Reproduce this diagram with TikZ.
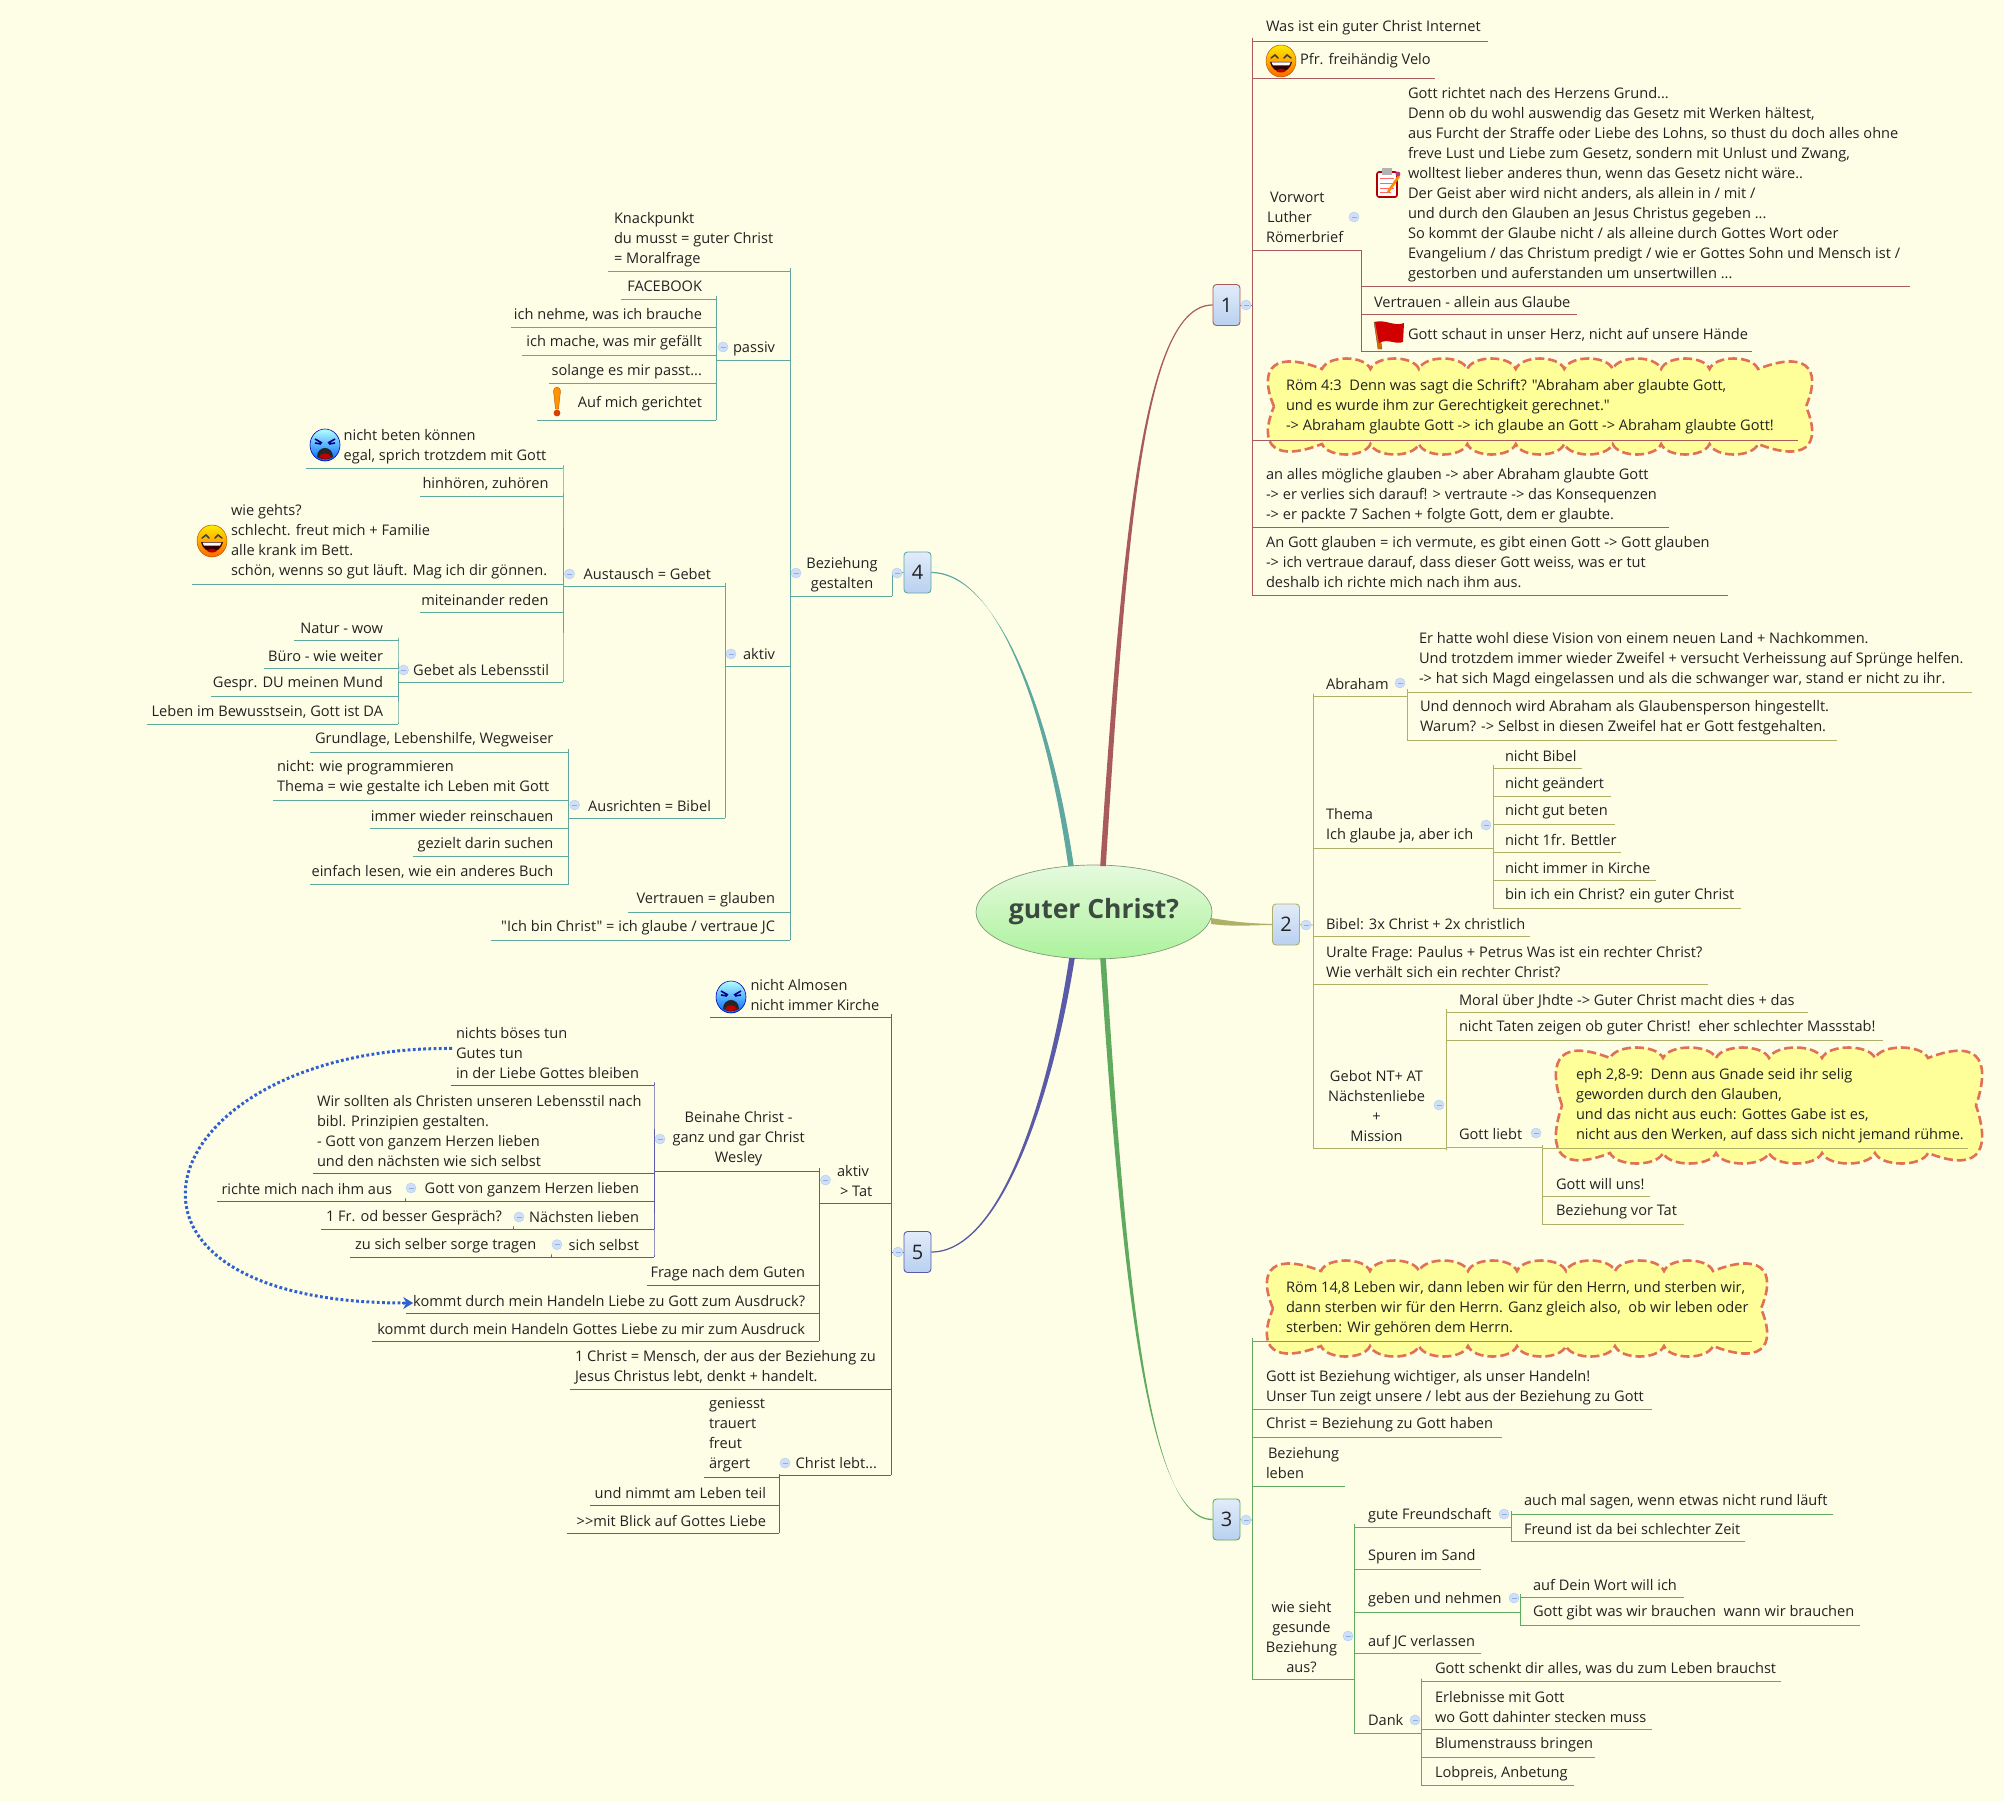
\documentclass[tikz,border=0pt]{standalone}
\usepackage{fontspec}
\setmainfont[Ligatures=TeXOff]{Open Sans}
\usetikzlibrary{shapes.geometric,calc,arrows.meta}
\definecolor{bg}{HTML}{FEFEE6}
\definecolor{cA}{HTML}{A85A5C}
\definecolor{cB}{HTML}{AEB068}
\definecolor{cC}{HTML}{5FAA5F}
\definecolor{cD}{HTML}{5FA8A0}
\definecolor{cE}{HTML}{5A5AA8}
\definecolor{tk}{HTML}{222222}
\definecolor{boxtop}{HTML}{E2ECFA}
\definecolor{boxbot}{HTML}{B8D0F0}
\definecolor{colf}{HTML}{CFDFF8}
\definecolor{cold}{HTML}{B8CEF0}
\definecolor{colm}{HTML}{8FAEE0}
\definecolor{cloudf}{HTML}{FFFF99}
\definecolor{cloudd}{HTML}{E07058}
\definecolor{relc}{HTML}{3060D0}
\definecolor{rtop}{HTML}{E6FADE}
\definecolor{rbot}{HTML}{ACF29C}
\definecolor{rdraw}{HTML}{7F9A78}
\definecolor{rtxt}{HTML}{3C4A40}
\tikzset{
 txt/.style={inner sep=0pt,outer sep=0pt,text=tk,font=\fontsize{14.6}{20}\selectfont},
 br/.style={line width=.9pt,draw=cur},
 lk/.style={line width=.9pt,draw=cur,rounded corners=3pt},
 boxn/.style={rectangle,rounded corners=3.5pt,draw=cur,line width=.9pt,top color=boxtop,bottom color=boxbot,minimum width=27pt,minimum height=41pt,inner sep=0pt,text=tk,font=\fontsize{20}{24}\selectfont},
 coll/.style={circle,fill=colf,draw=cold,line width=.5pt,minimum size=10pt,inner sep=0pt,
   path picture={\draw[colm,line width=.9pt] ([xshift=-2.5pt]path picture bounding box.center) -- ([xshift=2.5pt]path picture bounding box.center);}},
 cloudst/.style={fill=cloudf,draw=cloudd,line width=2.6pt,dash pattern=on 9pt off 4pt},
 rel/.style={draw=relc,line width=3pt,dash pattern=on 2.8pt off 2.4pt},
}
% #1 options, #2 name, #3 parent, #4 xL, #5 xR, #6 yline, #7 x text, #8 y of last line, #9 text
\newcommand\rt[9][]{%
 \coordinate (#2-l) at (#4,#6);\coordinate (#2-r) at (#5,#6);
 \node[txt,align=left,anchor=south west,#1] (#2) at (#7,{#8+11}) {#9\strut};
 \draw[br] (#2-l) -- (#2-r);
 \draw[lk] (#3-r) |- (#2-l);}
\newcommand\lt[9][]{%
 \coordinate (#2-l) at (#4,#6);\coordinate (#2-r) at (#5,#6);
 \node[txt,align=right,anchor=south east,#1] (#2) at (#7,{#8+11}) {#9\strut};
 \draw[br] (#2-l) -- (#2-r);
 \draw[lk] (#3-l) |- (#2-r);}
\newcommand\cl[3]{\node[coll] (#1) at (#2,#3) {};}
\newcommand\taperV[5]{\fill[#1] ($(#2)+(-2.8,0)$) .. controls ($#3+(-2.2,0)$) and ($#4+(0,-1)$) .. ($(#5)+(0,-.6)$) -- ($(#5)+(0,.6)$) .. controls ($#4+(0,1)$) and ($#3+(2.2,0)$) .. ($(#2)+(2.8,0)$) -- cycle;}
\newcommand\cloudshape[5]{%
 \pgfmathsetmacro\xa{#1+8}\pgfmathsetmacro\ya{#2+11}\pgfmathsetmacro\xb{#3-8}\pgfmathsetmacro\yb{#4-11}%
 \pgfmathsetmacro\ym{(#2+#4)/2}\pgfmathsetmacro\va{#1+56}\pgfmathsetmacro\vb{#3-56}\pgfmathsetmacro\ww{(\vb-\va)/#5}%
 \draw[cloudst] (\xa,\ym) .. controls ({#1-9},{#2+8}) and ({#1+10},{#2-7}) .. (\va,\ya)
  foreach \i in {1,...,#5}{ .. controls ({\va+(\i-1)*\ww+.12*\ww},{#2-3}) and ({\va+\i*\ww-.12*\ww},{#2-3}) .. ({\va+\i*\ww},\ya) }
  .. controls ({#3-10},{#2-7}) and ({#3+9},{#2+8}) .. (\xb,\ym)
  .. controls ({#3+9},{#4-8}) and ({#3-10},{#4+7}) .. (\vb,\yb)
  foreach \i in {1,...,#5}{ .. controls ({\vb-(\i-1)*\ww-.12*\ww},{#4+3}) and ({\vb-\i*\ww+.12*\ww},{#4+3}) .. ({\vb-\i*\ww},\yb) }
  .. controls ({#1+10},{#4+7}) and ({#1-9},{#4-8}) .. (\xa,\ym) -- cycle;}
\newcommand\iconsmile[2]{\begin{scope}[shift={(#1,#2)}]
 \shade[top color=yellow!85!orange,bottom color=orange!80!red,draw=orange!70!black,line width=.5pt] (0,0) ellipse (15 and 16);
 \draw[black!75,line width=1.5pt,line cap=round] (-10,-3) -- (-6,-6) -- (-3,-3) (3,-3) -- (6,-6) -- (10,-3);
 \fill[black!80!red] (-11,1) .. controls (-8,14) and (8,14) .. (11,1) -- cycle;
 \fill[white] (-9.5,1.5) -- (9.5,1.5) -- (8,4.5) -- (-8,4.5) -- cycle;
 \fill[red!70!black] (-5,10) .. controls (-2,7) and (2,7) .. (5,10) .. controls (2,12) and (-2,12) .. (-5,10);
 \end{scope}}
\newcommand\iconcry[2]{\begin{scope}[shift={(#1,#2)}]
 \shade[top color=cyan!30!white,bottom color=blue!60!cyan,draw=blue!70!black,line width=.6pt] (0,0) ellipse (15 and 16);
 \draw[blue!50!black,line width=1.6pt] (-10,-6) -- (-3,-2) (10,-6) -- (3,-2) (-10,-2) -- (-4,-1) (10,-2) -- (4,-1);
 \fill[black!85] (-8,12) .. controls (-8,0) and (8,0) .. (8,12) .. controls (4,15) and (-4,15) .. (-8,12);
 \fill[red!75!black] (-6,12) .. controls (-4,7) and (4,7) .. (6,12) .. controls (3,14.5) and (-3,14.5) .. (-6,12);
 \end{scope}}
\begin{document}
\begin{tikzpicture}[x=1pt,y=-1pt]
\useasboundingbox (0,0) rectangle (2004,1801);
\fill[bg] (0,0) rectangle (2004,1801);
% centre
\node[ellipse,minimum width=236pt,minimum height=94pt,inner sep=-8pt,draw=rdraw,line width=.7pt,top color=rtop,bottom color=rbot,text=rtxt,font=\fontsize{26.5}{30}\selectfont\bfseries] (root) at (1094,912) {guter Christ?};
\coordinate (rA) at (1103,866);
\coordinate (rD) at (1071,866);
\coordinate (rE) at (1072,958);
\coordinate (rC) at (1103,958);
\coordinate (rB) at (1211,921);
\colorlet{cur}{cA}
\node[boxn] (n1) at (1226.5,305) {1};
\colorlet{cur}{cB}
\node[boxn] (n2) at (1286,924.5) {2};
\colorlet{cur}{cC}
\node[boxn] (n3) at (1226.5,1519.5) {3};
\colorlet{cur}{cD}
\node[boxn] (n4) at (917.5,572.5) {4};
\colorlet{cur}{cE}
\node[boxn] (n5) at (917.5,1252) {5};
\taperV{cA}{rA}{(1125,520)}{(1145,305)}{n1.west}
\taperV{cD}{rD}{(1050,720)}{(1000,573)}{n4.east}
\taperV{cE}{rE}{(1050,1100)}{(1000,1252)}{n5.east}
\taperV{cC}{rC}{(1125,1300)}{(1150,1520)}{n3.west}
\fill[cB] ($(rB)+(0,-3)$) .. controls (1235,922) and (1250,923.5) .. ($(n2.west)+(0,-.6)$) -- ($(n2.west)+(0,.6)$) .. controls (1250,925) and (1235,927) .. ($(rB)+(0,3)$) -- cycle;
% ===== branch 1
\begin{scope}
\colorlet{cur}{cA}
\coordinate (s1-r) at (1252,305);
\draw[br] (n1.east) -- (s1-r);
\cloudshape{1266}{358}{1814}{455}{9}
\rt{a1}{s1}{1252}{1488}{41}{1266}{27}{Was ist ein guter Christ Internet}
\rt{a2}{s1}{1252}{1435}{78.5}{1300}{60}{Pfr. freihändig Velo}
\rt{a3}{s1}{1252}{1361}{250}{1266}{237}{\hspace*{4pt}Vorwort\\\hspace*{1pt}Luther\\Römerbrief}
\rt{a31}{a3}{1361}{1910}{286}{1408}{273}{Gott richtet nach des Herzens Grund...\\Denn ob du wohl auswendig das Gesetz mit Werken hältest,\\aus Furcht der Straffe oder Liebe des Lohns, so thust du doch alles ohne\\freve Lust und Liebe zum Gesetz, sondern mit Unlust und Zwang,\\wolltest lieber anderes thun, wenn das Gesetz nicht wäre..\\Der Geist aber wird nicht anders, als allein in / mit /\\und durch den Glauben an Jesus Christus gegeben ...\\So kommt der Glaube nicht / als alleine durch Gottes Wort oder\\Evangelium / das Christum predigt / wie er Gottes Sohn und Mensch ist /\\gestorben und auferstanden um unsertwillen ...}
\rt{a32}{a3}{1361}{1577}{314}{1374}{302}{Vertrauen - allein aus Glaube}
\rt{a33}{a3}{1361}{1752}{351}{1408}{334}{Gott schaut in unser Herz, nicht auf unsere Hände}
\rt{a4}{s1}{1252}{1798}{440}{1286}{425}{Röm 4:3\ \ Denn was sagt die Schrift? "Abraham aber glaubte Gott,\\und es wurde ihm zur Gerechtigkeit gerechnet."\\-> Abraham glaubte Gott -> ich glaube an Gott -> Abraham glaubte Gott!}
\rt{a5}{s1}{1252}{1669}{527}{1266}{514}{an alles mögliche glauben -> aber Abraham glaubte Gott\\-> er verlies sich darauf! > vertraute -> das Konsequenzen\\-> er packte 7 Sachen + folgte Gott, dem er glaubte.}
\rt{a6}{s1}{1252}{1728}{595}{1266}{582}{An Gott glauben = ich vermute, es gibt einen Gott -> Gott glauben\\-> ich vertraue darauf, dass dieser Gott weiss, was er tut\\deshalb ich richte mich nach ihm aus.}
\cl{c1}{1246}{305}
\cl{c11}{1354}{217}
\iconsmile{1281}{61}
% clipboard
\fill[white,draw=red!70!black,line width=1.6pt,rounded corners=2pt] (1377,172) rectangle (1397,197);
\fill[gray!60] (1382,168) rectangle (1392,175);
\draw[red!60,line width=.8pt] (1380,178) -- (1394,178) (1380,183) -- (1394,183) (1380,188) -- (1394,188) (1380,192) -- (1391,192);
\draw[orange!90!yellow,line width=2.6pt] (1388,192) -- (1399,176);
\fill[magenta!70!black] (1398,174) circle (2.4);
% flag
\fill[orange!85!black,draw=black!70,line width=.3pt] (1374,322) -- (1378,322) -- (1382,349) -- (1378,349) -- cycle;
\fill[red!82!black] (1375,322) .. controls (1385,319) and (1395,327) .. (1404,323) -- (1403,342) .. controls (1395,345) and (1388,338) .. (1379,343) -- cycle;
\end{scope}
% ===== branch 2
\begin{scope}
\colorlet{cur}{cB}
\coordinate (s2-r) at (1313,925);
\draw[br] (n2.east) -- (s2-r);
\cloudshape{1554}{1047}{1984}{1164}{6}
\rt{b1}{s2}{1313}{1407}{696.5}{1326}{684}{Abraham}
\rt{b11}{b1}{1407}{1972}{692}{1419}{678}{Er hatte wohl diese Vision von einem neuen Land + Nachkommen.\\Und trotzdem immer wieder Zweifel + versucht Verheissung auf Sprünge helfen.\\-> hat sich Magd eingelassen und als die schwanger war, stand er nicht zu ihr.}
\rt{b12}{b1}{1407}{1837}{740}{1420}{726}{Und dennoch wird Abraham als Glaubensperson hingestellt.\\Warum? -> Selbst in diesen Zweifel hat er Gott festgehalten.}
\rt{b2}{s2}{1313}{1493}{848}{1326}{834}{Thema\\Ich glaube ja, aber ich}
\rt{b21}{b2}{1493}{1582}{768}{1505}{756}{nicht Bibel}
\rt{b22}{b2}{1493}{1611}{796.5}{1505}{783}{nicht geändert}
\rt{b23}{b2}{1493}{1615}{824}{1505}{810}{nicht gut beten}
\rt{b24}{b2}{1493}{1621}{852}{1505}{840}{nicht 1fr. Bettler}
\rt{b25}{b2}{1493}{1656}{880}{1505}{868}{nicht immer in Kirche}
\rt{b26}{b2}{1493}{1741}{908}{1505}{894.5}{bin ich ein Christ? ein guter Christ}
\rt{b3}{s2}{1313}{1530}{936.5}{1326}{924}{Bibel: 3x Christ + 2x christlich}
\rt{b4}{s2}{1313}{1708}{984}{1326}{972}{Uralte Frage: Paulus + Petrus Was ist ein rechter Christ?\\Wie verhält sich ein rechter Christ?}
\rt[align=center,anchor=south]{b5}{s2}{1313}{1446}{1148}{1376.5}{1136}{Gebot NT+ AT\\Nächstenliebe\\+\\Mission}
\rt{b51}{b5}{1446}{1808}{1012}{1459}{1000}{Moral über Jhdte -> Guter Christ macht dies + das}
\rt{b52}{b5}{1446}{1883}{1040}{1459}{1026}{nicht Taten zeigen ob guter Christ!\ \ eher schlechter Massstab!}
\rt{b53}{b5}{1446}{1542}{1147}{1459}{1134}{Gott liebt}
\rt{b531}{b53}{1542}{1968}{1148}{1576}{1134.5}{eph 2,8-9:\ \ Denn aus Gnade seid ihr selig\\geworden durch den Glauben,\\und das nicht aus euch: Gottes Gabe ist es,\\nicht aus den Werken, auf dass sich nicht jemand rühme.}
\rt{b532}{b53}{1542}{1650}{1196.5}{1556}{1184}{Gott will uns!}
\rt{b533}{b53}{1542}{1684}{1224}{1556}{1210}{Beziehung vor Tat}
\cl{c2}{1306}{925}\cl{c21}{1400}{683}\cl{c22}{1486}{825}\cl{c23}{1439}{1105}\cl{c24}{1536}{1133}
\end{scope}
% ===== branch 3
\begin{scope}
\colorlet{cur}{cC}
\coordinate (s3-r) at (1252,1520);
\draw[br] (n3.east) -- (s3-r);
\cloudshape{1265}{1260}{1769}{1357}{8}
\rt{d1}{s3}{1252}{1752}{1341}{1286}{1327}{Röm 14,8 Leben wir, dann leben wir für den Herrn, und sterben wir,\\dann sterben wir für den Herrn. Ganz gleich also,\ \ ob wir leben oder\\sterben: Wir gehören dem Herrn.}
\rt{d2}{s3}{1252}{1652}{1409}{1266}{1396}{Gott ist Beziehung wichtiger, als unser Handeln!\\Unser Tun zeigt unsere / lebt aus der Beziehung zu Gott}
\rt{d3}{s3}{1252}{1502}{1437.5}{1266}{1423.5}{Christ = Beziehung zu Gott haben}
\rt{d4}{s3}{1252}{1345}{1486}{1266}{1473}{\hspace*{2pt}Beziehung\\leben}
\rt[align=center,anchor=south]{d5}{s3}{1252}{1354}{1679}{1301.5}{1667}{wie sieht\\gesunde\\Beziehung\\aus?}
\rt{d51}{d5}{1354}{1511}{1527}{1368}{1514}{gute Freundschaft}
\rt{d511}{d51}{1511}{1833}{1514}{1524}{1500}{auch mal sagen, wenn etwas nicht rund läuft}
\rt{d512}{d51}{1511}{1745}{1541.6}{1524}{1529}{Freund ist da bei schlechter Zeit}
\rt{d52}{d5}{1354}{1481}{1569.5}{1368}{1555.6}{Spuren im Sand}
\rt{d53}{d5}{1354}{1520}{1612}{1368}{1598}{geben und nehmen}
\rt{d531}{d53}{1520}{1684}{1597}{1533}{1585}{auf Dein Wort will ich}
\rt{d532}{d53}{1520}{1860}{1625.7}{1533}{1611}{Gott gibt was wir brauchen\ \ wann wir brauchen}
\rt{d54}{d5}{1354}{1481}{1653.6}{1368}{1641.4}{auf JC verlassen}
\rt{d55}{d5}{1354}{1421}{1733}{1368}{1720.5}{Dank}
\rt{d551}{d55}{1421}{1781}{1681.5}{1435}{1668}{Gott schenkt dir alles, was du zum Leben brauchst}
\rt{d552}{d55}{1421}{1652}{1729.4}{1435}{1717}{Erlebnisse mit Gott\\wo Gott dahinter stecken muss}
\rt{d553}{d55}{1421}{1595}{1757}{1435}{1743}{Blumenstrauss bringen}
\rt{d554}{d55}{1421}{1574}{1785.6}{1435}{1772}{Lobpreis, Anbetung}
\cl{c3}{1246}{1520}\cl{c31}{1348}{1636}\cl{c32}{1504}{1514}\cl{c33}{1514}{1598}\cl{c34}{1415}{1720}
\end{scope}
% ===== branch 4
\begin{scope}
\colorlet{cur}{cD}
\coordinate (s4-l) at (892,573);
\draw[br] (n4.west) -- (s4-l);
\lt[align=center,anchor=south]{e0}{s4}{790}{892}{596}{842}{583}{Beziehung\\gestalten}
\lt[align=left,anchor=south west]{e1}{e0}{608}{790}{271}{614}{258}{Knackpunkt\\du musst = guter Christ\\= Moralfrage}
\lt{e2}{e0}{716}{790}{360.7}{775}{347}{passiv}
\lt{e21}{e2}{621}{716}{299}{702}{286.7}{FACEBOOK}
\lt{e22}{e2}{510.5}{716}{327}{702}{314}{ich nehme, was ich brauche}
\lt{e23}{e2}{522}{716}{355}{702}{341.7}{ich mache, was mir gefällt}
\lt{e24}{e2}{549}{716}{383}{702}{370}{solange es mir passt...}
\lt{e25}{e2}{537}{716}{420}{702}{402}{Auf mich gerichtet}
\lt{e3}{e0}{725}{790}{666}{775}{654}{aktiv}
\lt{e31}{e3}{563}{725}{586}{711}{574}{Austausch = Gebet}
\lt[align=left,anchor=south west]{e311}{e31}{305.6}{563}{468}{343.6}{455}{nicht beten können\\egal, sprich trotzdem mit Gott}
\lt{e312}{e31}{420}{563}{496}{548.5}{483}{hinhören, zuhören}
\lt[align=left,anchor=south west]{e313}{e31}{192}{563}{584}{231}{570.7}{wie gehts?\\schlecht. freut mich + Familie\\alle krank im Bett.\\schön, wenns so gut läuft. Mag ich dir gönnen.}
\lt{e314}{e31}{419.5}{563}{612}{548.5}{600}{miteinander reden}
\lt{e315}{e31}{398}{563}{682}{549}{670}{Gebet als Lebensstil}
\lt{e3151}{e315}{294}{398}{640.7}{383}{628}{Natur - wow}
\lt{e3152}{e315}{263.6}{398}{668}{383}{656}{Büro - wie weiter}
\lt{e3153}{e315}{211}{398}{696}{383}{682}{Gespr. DU meinen Mund}
\lt{e3154}{e315}{147}{398}{724}{383}{711}{Leben im Bewusstsein, Gott ist DA}
\lt{e32}{e3}{568.5}{725}{818}{711}{806}{Ausrichten = Bibel}
\lt{e321}{e32}{310}{568.5}{752}{553.4}{738}{Grundlage, Lebenshilfe, Wegweiser}
\lt[align=left,anchor=south west]{e322}{e32}{272.6}{568.5}{800}{277}{786}{nicht: wie programmieren\\Thema = wie gestalte ich Leben mit Gott}
\lt{e323}{e32}{370}{568.5}{828}{553.4}{816}{immer wieder reinschauen}
\lt{e324}{e32}{413}{568.5}{856}{553.4}{843}{gezielt darin suchen}
\lt{e325}{e32}{310}{568.5}{884}{553.4}{871}{einfach lesen, wie ein anderes Buch}
\lt{e4}{e0}{628}{790}{912}{775}{898}{Vertrauen = glauben}
\lt{e5}{e0}{490.6}{790}{940}{775}{926}{"Ich bin Christ" = ich glaube / vertraue JC}
\cl{c4}{897}{573}\cl{c41}{796}{573}\cl{c42}{723}{347}\cl{c43}{731}{654}\cl{c44}{569.5}{574}\cl{c45}{403.5}{670}\cl{c46}{574.6}{805}
\iconcry{325}{445}
\iconsmile{212}{541}
\fill[orange!85!yellow,draw=orange!70!black,line width=.4pt] (553.5,391) .. controls (553.5,386) and (560.5,386) .. (560.5,391) -- (558.5,409) -- (555.5,409) -- cycle;
\fill[orange!60!red!85!black] (557,413) circle (3.4);
\end{scope}
% ===== branch 5
\begin{scope}
\colorlet{cur}{cE}
\coordinate (s5-l) at (891,1252);
\draw[br] (n5.west) -- (s5-l);
\lt[align=left,anchor=south west]{f1}{s5}{710}{891}{1017}{750.5}{1005}{nicht Almosen\\nicht immer Kirche}
\lt[align=left,anchor=south west]{f2}{s5}{819}{891}{1203}{837}{1191}{aktiv\\\hspace*{3pt}> Tat}
\lt[align=center,anchor=south]{f21}{f2}{654}{819}{1171}{738.6}{1157}{Beinahe Christ -\\ganz und gar Christ\\Wesley}
\lt[align=left,anchor=south west]{f211}{f21}{451}{654}{1085}{456}{1073}{nichts böses tun\\Gutes tun\\in der Liebe Gottes bleiben}
\lt[align=left,anchor=south west]{f212}{f21}{312.5}{654}{1173}{317}{1161}{Wir sollten als Christen unseren Lebensstil nach\\bibl. Prinzipien gestalten.\\- Gott von ganzem Herzen lieben\\und den nächsten wie sich selbst}
\lt{f213}{f21}{405}{654}{1201}{639}{1188}{Gott von ganzem Herzen lieben}
\lt[align=left,anchor=south west]{f2131}{f213}{217}{405}{1201}{221.5}{1189}{richte mich nach ihm aus}
\lt{f214}{f21}{513}{654}{1229}{639}{1217}{Nächsten lieben}
\lt[align=left,anchor=south west]{f2141}{f214}{321}{513}{1229}{326}{1216}{1 Fr. od besser Gespräch?}
\lt{f215}{f21}{551}{654}{1257}{639}{1245}{sich selbst}
\lt[align=left,anchor=south west]{f2151}{f215}{350}{551}{1257}{355}{1244}{zu sich selber sorge tragen}
\lt{f22}{f2}{646.6}{819}{1285}{805}{1272}{Frage nach dem Guten}
\lt{f23}{f2}{406}{819}{1313}{805}{1301}{kommt durch mein Handeln Liebe zu Gott zum Ausdruck?}
\lt{f24}{f2}{372}{819}{1341}{805}{1329}{kommt durch mein Handeln Gottes Liebe zu mir zum Ausdruck}
\lt[align=left,anchor=south west]{f3}{s5}{570}{891}{1389}{575}{1376}{1 Christ = Mensch, der aus der Beziehung zu\\Jesus Christus lebt, denkt + handelt.}
\lt{f4}{s5}{779}{891}{1475}{877}{1463}{Christ lebt...}
\lt[align=left,anchor=south west]{f41}{f4}{704}{779}{1477}{709}{1463}{geniesst\\trauert\\freut\\ärgert}
\lt{f42}{f4}{590}{779}{1505}{766}{1493}{und nimmt am Leben teil}
\lt{f43}{f4}{567}{779}{1533}{766}{1521}{>>mit Blick auf Gottes Liebe}
\cl{c5}{898}{1252}\cl{c51}{825.5}{1180}\cl{c52}{660}{1139}\cl{c53}{411}{1188}\cl{c54}{519}{1217}\cl{c55}{557}{1244.6}\cl{c56}{785}{1463}
\iconcry{731}{997}
\draw[rel] ($(f211.west)+(-4,-7)$) .. controls (150,1046) and (65,1303) .. ($(f23.west)+(-8,1)$);
\draw[-{Stealth[length=10pt,width=12pt]},draw=relc,fill=relc,line width=1.5pt] ($(f23.west)+(-11,1)$) -- ($(f23.west)+(0,1)$);
\end{scope}
\end{tikzpicture}
\end{document}
